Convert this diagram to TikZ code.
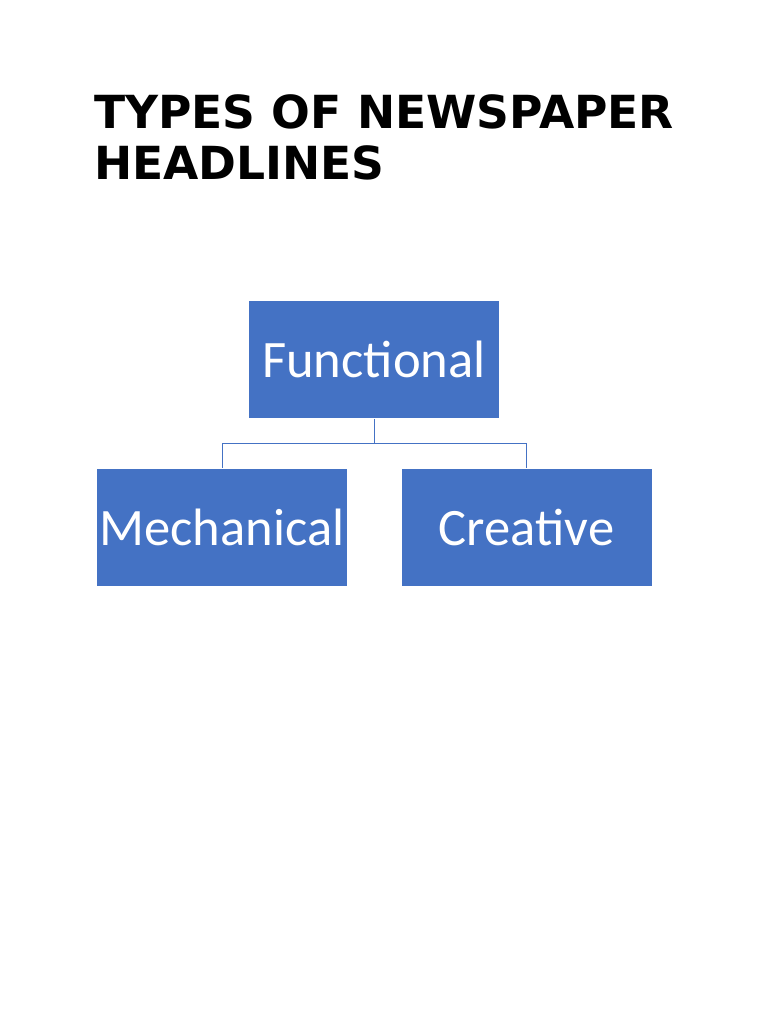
\documentclass[tikz,border=0pt]{standalone}
\usepackage{fontspec}
\setmainfont{Carlito}
\newfontfamily\titlefont{DejaVu Sans}
\definecolor{boxblue}{HTML}{4472C4}
\begin{document}
\begin{tikzpicture}[x=1pt,y=-1pt,
  blockbox/.style={fill=boxblue, draw=white, line width=0.6pt, minimum width=251pt, minimum height=118pt, inner sep=0pt, text=white, font=\fontsize{52.6}{60}\selectfont},
  link/.style={draw=boxblue, line width=0.9pt},
  titletext/.style={anchor=base west, inner sep=0pt, font=\titlefont\bfseries\fontsize{45.6}{51}\selectfont}]
\useasboundingbox (0,0) rectangle (768,1024);
\node[titletext] (t1) at (94,129) {TYPES OF NEWSPAPER};
\node[titletext] (t2) at (94,180) {HEADLINES};
\node[blockbox] (func) at (374,359.5) {Functional};
\node[blockbox] (mech) at (222,527.5) {Mechanical};
\node[blockbox] (crea) at (526.5,527.5) {Creative};
\coordinate (mid) at (374,443);
\draw[link] (func.south) -- (mid);
\draw[link] (mid) -| (mech.north);
\draw[link] (mid) -| (crea.north);
\end{tikzpicture}
\end{document}
